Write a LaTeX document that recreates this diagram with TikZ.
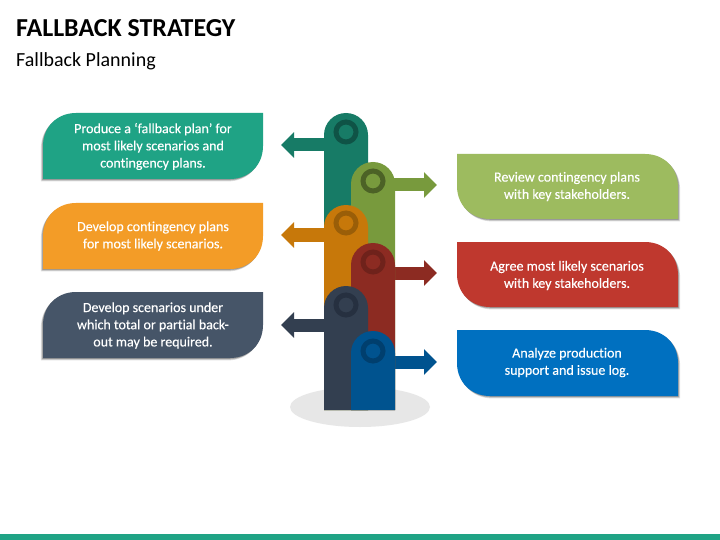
\documentclass[tikz,border=0pt]{standalone}
\usepackage{fontspec}
\setmainfont[Ligatures=NoCommon]{Carlito}
\newfontfamily\cardfont[Ligatures=NoCommon,FakeBold=0.25]{Carlito}
\usetikzlibrary{arrows.meta}
\definecolor{cTeal}{HTML}{1FA385}\definecolor{kTeal}{HTML}{177B66}\definecolor{rTeal}{HTML}{0F5346}
\definecolor{cOlive}{HTML}{9DBB5F}\definecolor{kOlive}{HTML}{789A3D}\definecolor{rOlive}{HTML}{4C6226}
\definecolor{cOrange}{HTML}{F39C27}\definecolor{kOrange}{HTML}{C7780A}\definecolor{rOrange}{HTML}{9A5E08}
\definecolor{cRed}{HTML}{BF382E}\definecolor{kRed}{HTML}{8C2B22}\definecolor{rRed}{HTML}{6F221B}
\definecolor{cDark}{HTML}{465568}\definecolor{kDark}{HTML}{333F50}\definecolor{rDark}{HTML}{263040}
\definecolor{cBlue}{HTML}{0070C0}\definecolor{kBlue}{HTML}{00538F}\definecolor{rBlue}{HTML}{003F6E}
\definecolor{cFloor}{HTML}{E7E7E7}
\tikzset{
 cardtext/.style={text=white,font=\cardfont\fontsize{14}{17.2}\selectfont,align=center,inner sep=0pt},
 ringmark/.style={line width=5pt,fill=none},
 pointer/.style={line width=13pt,-{Triangle[length=13pt,width=25pt]}},
}
\newcommand{\colshape}[3]{\fill[#3] (#1,410) -- (#1,#2+22) arc[start angle=180,end angle=0,x radius=22,y radius=-22] -- (#1+44,410) -- cycle;}
\newcommand{\lcardpath}[2]{(43,#2) -- (43,#1+33) .. controls (43,#1+14) and (57,#1) .. (76,#1) -- (263,#1) -- (263,#2-33+0) .. controls (263,#2-14) and (249,#2) .. (230,#2) -- cycle}
\newcommand{\rcardpath}[2]{(457,#1) -- (645,#1) .. controls (664,#1) and (678,#1+14) .. (678,#1+33) -- (678,#2) -- (490,#2) .. controls (471,#2) and (457,#2-14) .. (457,#2-33) -- cycle}
\newcommand{\lcard}[3]{%
 \foreach \d/\o in {1/.18,2/.16,3/.12}{\fill[black,opacity=\o,xshift=-\d*0.7pt,yshift=-\d*0.8pt] \lcardpath{#1}{#2};}
 \fill[#3] \lcardpath{#1}{#2};}
\newcommand{\rcard}[3]{%
 \foreach \d/\o in {1/.18,2/.16,3/.12}{\fill[black,opacity=\o,xshift=\d*0.7pt,yshift=-\d*0.8pt] \rcardpath{#1}{#2};}
 \fill[#3] \rcardpath{#1}{#2};}
\begin{document}
\begin{tikzpicture}[x=1pt,y=-1pt]
\useasboundingbox (0,0) rectangle (720,540);
\fill[white] (0,0) rectangle (720,540);
\fill[cTeal] (0,534) rectangle (720,540);
\node[anchor=west,inner sep=0pt,font=\fontsize{25.9}{30}\selectfont\bfseries] (title) at (16,28.5) {FALLBACK STRATEGY};
\node[anchor=west,inner sep=0pt,font=\fontsize{20}{24}\selectfont] (subtitle) at (16,61.5) {Fallback Planning};
\fill[cFloor] (360,407) ellipse[x radius=70,y radius=20];
\coordinate (tipA) at (281,145);
\coordinate (tipB) at (437,185);
\coordinate (tipC) at (281,235);
\coordinate (tipD) at (437,273);
\coordinate (tipE) at (281,325);
\coordinate (tipF) at (437,362);
\coordinate (baseA) at (330,145);
\coordinate (baseB) at (390,185);
\coordinate (baseC) at (330,235);
\coordinate (baseD) at (390,273);
\coordinate (baseE) at (330,325);
\coordinate (baseF) at (390,362);
\draw[pointer,kTeal] (baseA) -- (tipA);
\draw[pointer,kOlive] (baseB) -- (tipB);
\draw[pointer,kOrange] (baseC) -- (tipC);
\draw[pointer,kRed] (baseD) -- (tipD);
\draw[pointer,kDark] (baseE) -- (tipE);
\draw[pointer,kBlue] (baseF) -- (tipF);
\colshape{324}{113}{kTeal}
\draw[ringmark,rTeal] (346,132) circle[radius=10];
\colshape{351}{162}{kOlive}
\draw[ringmark,rOlive] (373,181) circle[radius=10];
\colshape{324}{205}{kOrange}
\draw[ringmark,rOrange] (346,223) circle[radius=10];
\colshape{351}{243}{kRed}
\draw[ringmark,rRed] (373,262) circle[radius=10];
\colshape{324}{286}{kDark}
\draw[ringmark,rDark] (346,305) circle[radius=10];
\colshape{351}{331}{kBlue}
\draw[ringmark,rBlue] (373,351) circle[radius=10];
\lcard{113}{179}{cTeal}
\lcard{203}{269}{cOrange}
\lcard{292}{358}{cDark}
\rcard{154}{219}{cOlive}
\rcard{242}{307}{cRed}
\rcard{330}{396}{cBlue}
\node[cardtext] (t1) at (153,146.5) {Produce a ‘fallback plan’ for\\most likely scenarios and\\contingency plans.};
\node[cardtext] (t2) at (153,236) {Develop contingency plans\\for most likely scenarios.};
\node[cardtext] (t3) at (153,325.5) {Develop scenarios under\\which total or partial back-\\out may be required.};
\node[cardtext] (t4) at (567,186.5) {Review contingency plans\\with key stakeholders.};
\node[cardtext] (t5) at (567,275.5) {Agree most likely scenarios\\with key stakeholders.};
\node[cardtext] (t6) at (567,362.5) {Analyze production\\support and issue log.};
\end{tikzpicture}
\end{document}
